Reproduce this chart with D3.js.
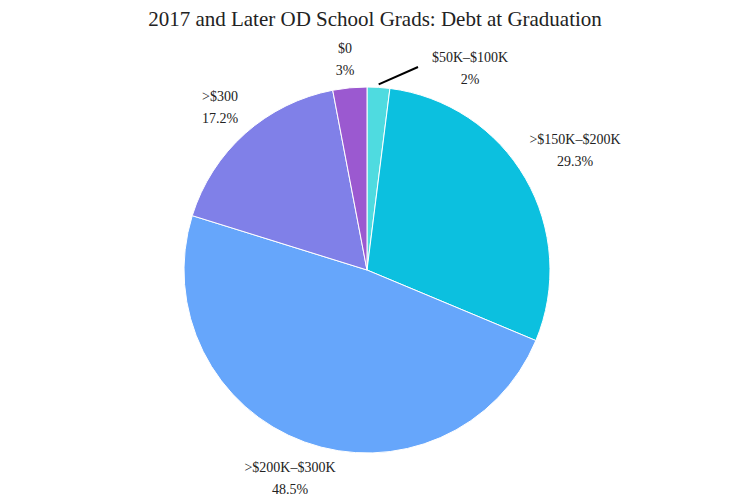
<!DOCTYPE html>
<html><head><meta charset="utf-8">
<script src="https://cdn.jsdelivr.net/npm/d3@7"></script>
<style>body{margin:0;background:#fff}text{font-family:"Liberation Serif","DejaVu Serif",serif;fill:#222}</style>
</head><body><svg id="c" width="750" height="500"></svg>
<script>
const categories=["$50K–$100K",">$150K–$200K",">$200K–$300K",">$300","$0"];
const values=[2,29.3,48.5,17.2,3];
const valueLabels=["2%","29.3%","48.5%","17.2%","3%"];
const colors=["#4fdbe0","#0cc0df","#66a6fb","#8080e8","#9b59d0"];
const labelPos=[[470,62],[575,144],[290,472],[220,101],[345,53]];
const svg=d3.select("#c");
svg.append("text").attr("x",375).attr("y",26).attr("text-anchor","middle").attr("font-size",21).text("2017 and Later OD School Grads: Debt at Graduation");
const cx=367,cy=270,r=183;
const pie=d3.pie().sort(null).value(d=>d)(values);
const arc=d3.arc().innerRadius(0).outerRadius(r);
const g=svg.append("g").attr("transform",`translate(${cx},${cy})`);
g.selectAll("path").data(pie).join("path").attr("d",arc).attr("fill",(d,i)=>colors[i]).attr("stroke","#fff").attr("stroke-width",1);
// leader line for small slice
const a0=(pie[0].startAngle+pie[0].endAngle)/2;
const p1=[cx+Math.sin(a0)*(r+3),cy-Math.cos(a0)*(r+3)];
svg.append("line").attr("x1",p1[0]).attr("y1",p1[1]).attr("x2",418).attr("y2",67).attr("stroke","#000").attr("stroke-width",2);
categories.forEach((c,i)=>{
  const t=svg.append("text").attr("x",labelPos[i][0]).attr("y",labelPos[i][1]).attr("text-anchor","middle").attr("font-size",14);
  t.append("tspan").attr("x",labelPos[i][0]).text(c);
  t.append("tspan").attr("x",labelPos[i][0]).attr("dy",22).text(valueLabels[i]);
});
</script></body></html>
